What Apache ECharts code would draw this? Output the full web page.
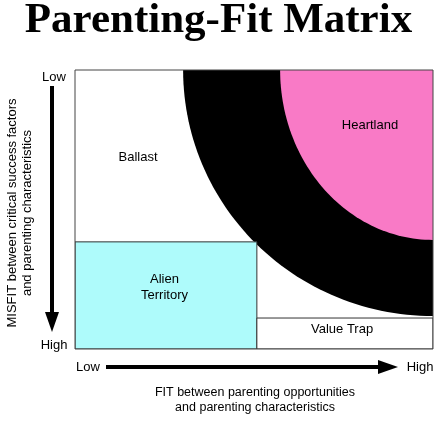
<!DOCTYPE html><html><head><meta charset="utf-8"><script src="https://cdn.jsdelivr.net/npm/echarts@6/dist/echarts.min.js"></script></head><body style="margin:0"><div id="c" style="width:437px;height:422px"></div><script>
const regions = ['Ballast','Heartland','Alien Territory','Value Trap'];
const labelPos = [[17.6,31.5],[82.4,19.7],[25,77.8],[74.6,93]];
const outerR = [69.8,88.2];
const innerR = [42.7,60.9];
const cyanRect = [0,61.6,50.8,100];
const trapRect = [50.8,88.9,100,100];
const axisTicks = ['Low','High'];
function arc(rx,ry){const p=[];for(let i=0;i<=60;i++){const t=Math.PI/2*i/60;p.push([100-rx*Math.cos(t),ry*Math.sin(t)]);}return p;}
const F='Liberation Sans';
const ch=echarts.init(document.getElementById('c'));
ch.setOption({animation:false,
title:{text:'Parenting-Fit Matrix',left:'center',top:-6,textStyle:{fontFamily:'Liberation Serif',fontWeight:'bold',fontSize:43,color:'#000'}},
grid:{left:75,right:4,top:70,bottom:73,show:true,borderColor:'#444',borderWidth:1,z:10},
xAxis:{type:'value',min:0,max:100,show:false},
yAxis:{type:'value',min:0,max:100,inverse:true,show:false},
series:[{type:'custom',data:[0],clip:true,renderItem:(p,api)=>{
 const c=a=>api.coord(a);
 const outer=arc(outerR[0],outerR[1]).map(c), inner=arc(innerR[0],innerR[1]).map(c);
 const tr=c([100,0]);
 const r=(q,fill)=>{const a=c([q[0],q[1]]),b=c([q[2],q[3]]);return {type:'rect',shape:{x:a[0],y:a[1],width:b[0]-a[0],height:b[1]-a[1]},style:{fill:fill,stroke:'#333',lineWidth:1}};};
 return {type:'group',children:[
  {type:'polygon',shape:{points:outer.concat([tr])},style:{fill:'#000'}},
  {type:'polygon',shape:{points:inner.concat([tr])},style:{fill:'#f97ac6'}},
  r(cyanRect,'#aefbfb'), r(trapRect,'#fff'),
  ...regions.map((t,i)=>{const q=c(labelPos[i]);return {type:'text',x:q[0],y:q[1],style:{text:t==='Alien Territory'?'Alien\nTerritory':t,align:'center',verticalAlign:'middle',fontSize:13,lineHeight:16,fontFamily:F,fill:'#000'}};})
 ]};}}],
graphic:[
 {type:'line',shape:{x1:52,y1:86,x2:52,y2:318},style:{stroke:'#000',lineWidth:4}},
 {type:'polygon',shape:{points:[[45,312],[59,312],[52,332]]},style:{fill:'#000'}},
 {type:'line',shape:{x1:106,y1:367,x2:382,y2:367},style:{stroke:'#000',lineWidth:4}},
 {type:'polygon',shape:{points:[[378,360],[378,374],[398,367]]},style:{fill:'#000'}},
 {type:'text',x:54,y:77,style:{text:axisTicks[0],align:'center',verticalAlign:'middle',fontSize:13,fontFamily:F}},
 {type:'text',x:54,y:345,style:{text:axisTicks[1],align:'center',verticalAlign:'middle',fontSize:13,fontFamily:F}},
 {type:'text',x:88,y:367,style:{text:axisTicks[0],align:'center',verticalAlign:'middle',fontSize:13,fontFamily:F}},
 {type:'text',x:420,y:367,style:{text:axisTicks[1],align:'center',verticalAlign:'middle',fontSize:13,fontFamily:F}},
 {type:'text',x:255,y:400,style:{text:'FIT between parenting opportunities\nand parenting characteristics',align:'center',verticalAlign:'middle',fontSize:12.5,lineHeight:15,fontFamily:F}},
 {type:'text',x:20,y:213,rotation:Math.PI/2,style:{text:'MISFIT between critical success factors\nand parenting characteristics',align:'center',verticalAlign:'middle',fontSize:13,lineHeight:15,fontFamily:F}}
]});
</script></body></html>
